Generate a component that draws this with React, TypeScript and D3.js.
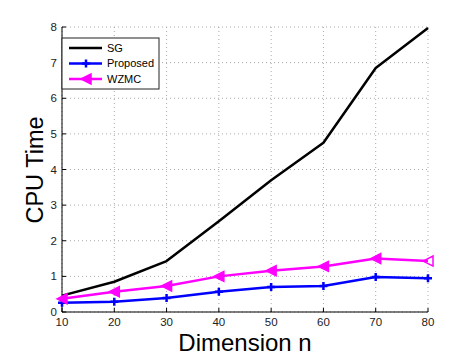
import React from "react";
import * as d3 from "d3";

const dims = [10, 20, 30, 40, 50, 60, 70, 80];
const sgValues = [0.46, 0.85, 1.43, 2.55, 3.7, 4.75, 6.85, 7.97];
const proposedValues = [0.26, 0.29, 0.39, 0.57, 0.7, 0.73, 0.98, 0.95];
const wzmcValues = [0.37, 0.57, 0.73, 1.0, 1.16, 1.28, 1.5, 1.43];
const xTicks = [10, 20, 30, 40, 50, 60, 70, 80];
const yTicks = [0, 1, 2, 3, 4, 5, 6, 7, 8];
const legendLabels = ["SG", "Proposed", "WZMC"];
const colors = ["#000000", "#0000ff", "#ff00ff"];

const W = 474, H = 355;
const L = 62, R = 428, T = 27, B = 312;

export default function App() {
  const x = d3.scaleLinear().domain([10, 80]).range([L, R]);
  const y = d3.scaleLinear().domain([0, 8]).range([B, T]);
  const line = d3.line<number>().x((_, i) => x(dims[i])).y((d) => y(d));
  const series = [sgValues, proposedValues, wzmcValues];
  const font = "Liberation Sans, Arial, Helvetica, sans-serif";

  const tri = (cx: number, cy: number, s = 5) =>
    `M${cx - s},${cy} L${cx + s},${cy - s} L${cx + s},${cy + s} Z`;
  const plus = (cx: number, cy: number, s = 4) =>
    `M${cx - s},${cy} H${cx + s} M${cx},${cy - s} V${cy + s}`;

  return (
    <svg width={W} height={H} style={{ position: "absolute", left: 0, top: 0, background: "#fff" }}>
      <rect width={W} height={H} fill="#fff" />
      {/* grid */}
      {xTicks.map((t) => (
        <line key={"gx" + t} x1={x(t)} x2={x(t)} y1={T} y2={B} stroke="#aaa" strokeWidth={1} strokeDasharray="1,3" />
      ))}
      {yTicks.map((t) => (
        <line key={"gy" + t} x1={L} x2={R} y1={y(t)} y2={y(t)} stroke="#aaa" strokeWidth={1} strokeDasharray="1,3" />
      ))}
      {/* axes */}
      <line x1={L} x2={L} y1={T} y2={B} stroke="#000" strokeWidth={1} />
      <line x1={L} x2={R} y1={B} y2={B} stroke="#000" strokeWidth={1} />
      {yTicks.map((t) => (
        <g key={"ty" + t}>
          <line x1={L} x2={L + 4} y1={y(t)} y2={y(t)} stroke="#000" />
          <text x={L - 5} y={y(t)} dy="0.35em" textAnchor="end" fontSize={11.5} fontFamily={font} fill="#222">
            {t}
          </text>
        </g>
      ))}
      {xTicks.map((t) => (
        <g key={"tx" + t}>
          <line x1={x(t)} x2={x(t)} y1={B} y2={B - 4} stroke="#000" />
          <text x={x(t)} y={B + 14} textAnchor="middle" fontSize={11.5} fontFamily={font} fill="#222">
            {t}
          </text>
        </g>
      ))}
      {/* lines */}
      {series.map((s, k) => (
        <path key={"l" + k} d={line(s) || ""} fill="none" stroke={colors[k]} strokeWidth={2.5} strokeLinejoin="round" />
      ))}
      {proposedValues.map((v, i) => (
        <path key={"p" + i} d={plus(x(dims[i]), y(v))} stroke={colors[1]} strokeWidth={2.5} fill="none" />
      ))}
      {wzmcValues.map((v, i) => (
        <path key={"w" + i} d={tri(x(dims[i]), y(v))} stroke={colors[2]} strokeWidth={1.5} fill={i === wzmcValues.length - 1 ? "none" : colors[2]} />
      ))}
      {/* axis labels */}
      <text x={245} y={350.5} textAnchor="middle" fontSize={24} fontFamily={font} fill="#000">
        Dimension n
      </text>
      <text transform={`translate(43,170) rotate(-90)`} textAnchor="middle" fontSize={23.5} fontFamily={font} fill="#000">
        CPU Time
      </text>
      {/* legend */}
      <rect x={62} y={38} width={97} height={51} fill="#fff" stroke="#222" strokeWidth={1} />
      {legendLabels.map((lab, k) => {
        const ly = 48 + k * 15.5;
        return (
          <g key={"lg" + k}>
            <line x1={69} x2={102} y1={ly} y2={ly} stroke={colors[k]} strokeWidth={2.5} />
            {k === 1 && <path d={plus(86, ly)} stroke={colors[1]} strokeWidth={2.5} />}
            {k === 2 && <path d={tri(86, ly)} stroke={colors[2]} fill={colors[2]} strokeWidth={1.5} />}
            <text x={107} y={ly} dy="0.35em" fontSize={11} fontFamily={font} fill="#000">
              {lab}
            </text>
          </g>
        );
      })}
    </svg>
  );
}
